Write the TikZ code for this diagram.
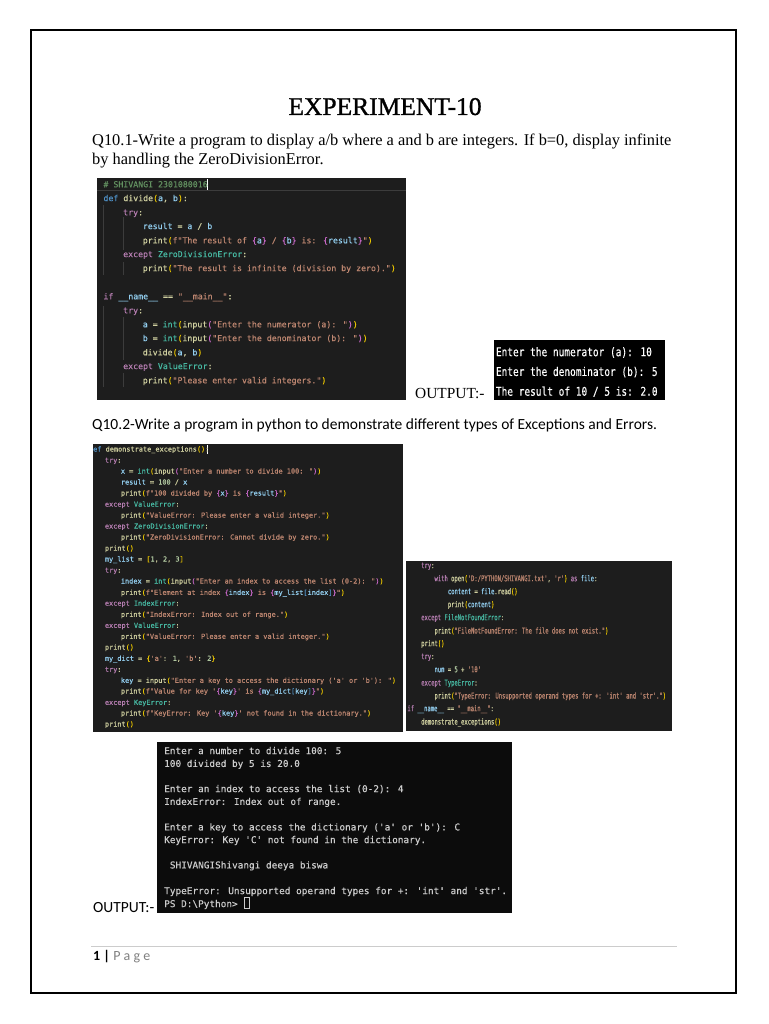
\documentclass[tikz,border=0pt]{standalone}
\usepackage{fontspec}
\setmainfont{Liberation Serif}
\newfontfamily\titlefont[FakeBold=1.2]{Liberation Serif}
\newfontfamily\calfont{Carlito}
\newfontfamily\codefont[FakeBold=0.4]{DejaVu Sans Mono}
\newfontfamily\narrowfont[FakeStretch=0.69,FakeBold=0.4]{DejaVu Sans Mono}
\newfontfamily\outfont[FakeStretch=0.79,FakeBold=0.3]{DejaVu Sans Mono}
\definecolor{codebg}{HTML}{1D1D1D}
\definecolor{termbg}{HTML}{0C0C0C}
\definecolor{guidecol}{HTML}{3C3C3C}
\definecolor{ckwcol}{HTML}{B57DB0}
\definecolor{cdefcol}{HTML}{4F8FC4}
\definecolor{cfncol}{HTML}{CFCF9F}
\definecolor{cvarcol}{HTML}{92CDEE}
\definecolor{cstrcol}{HTML}{BD8670}
\definecolor{cclscol}{HTML}{47B8A2}
\definecolor{cbrcol}{HTML}{E8C400}
\definecolor{cpucol}{HTML}{C868C8}
\definecolor{ccmcol}{HTML}{629060}
\definecolor{cnumcol}{HTML}{B0C8A0}
\definecolor{termtxt}{HTML}{CCCCCC}
\newcommand{\ckw}[1]{\textcolor{ckwcol}{#1}}
\newcommand{\cdf}[1]{\textcolor{cdefcol}{#1}}
\newcommand{\cfn}[1]{\textcolor{cfncol}{#1}}
\newcommand{\cvr}[1]{\textcolor{cvarcol}{#1}}
\newcommand{\cstr}[1]{\textcolor{cstrcol}{#1}}
\newcommand{\ccl}[1]{\textcolor{cclscol}{#1}}
\newcommand{\cbr}[1]{\textcolor{cbrcol}{#1}}
\newcommand{\cpu}[1]{\textcolor{cpucol}{#1}}
\newcommand{\cnum}[1]{\textcolor{cnumcol}{#1}}
\newcommand{\pr}{\cfn{print}\cbr{(}}
\tikzset{
  codea/.style={anchor=base west,inner sep=0pt,yshift=-2.6pt,text=cfncol,font=\codefont\fontsize{8.24}{10}\selectfont},
  codeb/.style={anchor=base west,inner sep=0pt,yshift=-2.2pt,text=cfncol,font=\codefont\fontsize{6.89}{9}\selectfont},
  codec/.style={anchor=base west,inner sep=0pt,yshift=-2.5pt,text=cfncol,font=\narrowfont\fontsize{8}{9}\selectfont},
  term/.style={anchor=base west,inner sep=0pt,yshift=-3.4pt,text=termtxt,font=\codefont\fontsize{9.39}{11}\selectfont},
  outp/.style={anchor=base west,inner sep=0pt,yshift=-4.2pt,text=white,font=\outfont\fontsize{12}{14}\selectfont},
  bodytxt/.style={anchor=base west,inner sep=0pt,yshift=-6.3pt,font=\fontsize{16.4}{18}\selectfont},
  caltxt/.style={anchor=base west,inner sep=0pt,yshift=-5pt,font=\calfont\fontsize{15.5}{18}\selectfont},
  guide/.style={draw=guidecol,line width=0.6pt}
}
\begin{document}
\begin{tikzpicture}[x=1pt,y=-1pt]
\useasboundingbox (0,0) rectangle (768,1024);
\draw[line width=2pt] (31,30) rectangle (736,993);
\node[anchor=base,inner sep=0pt,font=\titlefont\fontsize{25.5}{28}\selectfont] (title) at (385,115) {EXPERIMENT-10};
\node[bodytxt] (q1a) at (92,139) {Q10.1-Write a program to display a/b where a and b are integers. If b=0, display infinite};
\node[bodytxt] (q1b) at (92,158) {by handling the ZeroDivisionError.};

% first code
\fill[codebg] (97,178) rectangle (406,400);
\draw[guide] (97,190.5) -- (406,190.5);
\draw[white,line width=0.6pt] (207,179) -- (207,190);
\draw[guide] (103.5,205) -- (103.5,275);
\draw[guide] (103.5,306) -- (103.5,387);
\draw[guide] (123,217) -- (123,250);
\draw[guide] (123,262) -- (123,275);
\draw[guide] (123,317) -- (123,360);
\draw[guide] (123,373) -- (123,387);
\node[codea] (a1) at (103.3,184.7) {\textcolor{ccmcol}{\# SHIVANGI 2301080016}};
\node[codea] (a2) at (103.3,198.5) {\cdf{def} divide\cbr{(}\cvr{a}, \cvr{b}\cbr{)}:};
\node[codea] (a3) at (123,212.7) {\ckw{try}:};
\node[codea] (a4) at (142.6,226.5) {\cvr{result} = \cvr{a} / \cvr{b}};
\node[codea] (a5) at (142.6,240.7) {\pr\cstr{f"The result of }\cpu{\{}\cvr{a}\cpu{\}} \cstr{/ }\cpu{\{}\cvr{b}\cpu{\}} \cstr{is: }\cpu{\{}\cvr{result}\cpu{\}}\cstr{"}\cbr{)}};
\node[codea] (a6) at (123,254.5) {\ckw{except} \ccl{ZeroDivisionError}:};
\node[codea] (a7) at (142.6,268.5) {\pr\cstr{"The result is infinite (division by zero)."}\cbr{)}};
\node[codea] (a8) at (103.3,296.7) {\ckw{if} \cvr{\_\_name\_\_} == \cstr{"\_\_main\_\_"}:};
\node[codea] (a9) at (123,310.7) {\ckw{try}:};
\node[codea] (a10) at (142.6,324.7) {\cvr{a} = \ccl{int}\cbr{(}\cfn{input}\cpu{(}\cstr{"Enter the numerator (a): "}\cpu{)}\cbr{)}};
\node[codea] (a11) at (142.6,338.5) {\cvr{b} = \ccl{int}\cbr{(}\cfn{input}\cpu{(}\cstr{"Enter the denominator (b): "}\cpu{)}\cbr{)}};
\node[codea] (a12) at (142.6,352.7) {divide\cbr{(}\cvr{a}, \cvr{b}\cbr{)}};
\node[codea] (a13) at (123,366.5) {\ckw{except} \ccl{ValueError}:};
\node[codea] (a14) at (142.6,380.7) {\pr\cstr{"Please enter valid integers."}\cbr{)}};

\node[bodytxt,yshift=0.8pt,font=\fontsize{15.4}{18}\selectfont] (out1) at (415,393) {OUTPUT:-};
\fill[black] (494,340) rectangle (665,400);
\node[outp] (o1) at (495.7,352) {Enter the numerator (a): 10};
\node[outp] (o2) at (495.7,371.7) {Enter the denominator (b): 5};
\node[outp] (o3) at (495.7,391.5) {The result of 10 / 5 is: 2.0};

\node[caltxt] (q2) at (92,424) {Q10.2-Write a program in python to demonstrate different types of Exceptions and Errors.};

% second code
\fill[codebg] (93,444) rectangle (403,732);
\draw[white,line width=0.5pt] (207.7,445) -- (207.7,454);
\node[codeb] (b1) at (93,449.3) {\cdf{ef} demonstrate\_exceptions\cbr{()}:};
\node[codeb] (b2) at (104.7,460.4) {\ckw{try}:};
\node[codeb] (b3) at (120.7,471.3) {\cvr{x} = \ccl{int}\cbr{(}\cfn{input}\cpu{(}\cstr{"Enter a number to divide 100: "}\cpu{)}\cbr{)}};
\node[codeb] (b4) at (120.7,482.3) {\cvr{result} = \cnum{100} / \cvr{x}};
\node[codeb] (b5) at (120.7,493.3) {\pr\cstr{f"100 divided by }\cpu{\{}\cvr{x}\cpu{\}} \cstr{is }\cpu{\{}\cvr{result}\cpu{\}}\cstr{"}\cbr{)}};
\node[codeb] (b6) at (104.7,504.4) {\ckw{except} \ccl{ValueError}:};
\node[codeb] (b7) at (120.7,515.4) {\pr\cstr{"ValueError: Please enter a valid integer."}\cbr{)}};
\node[codeb] (b8) at (104.7,526.3) {\ckw{except} \ccl{ZeroDivisionError}:};
\node[codeb] (b9) at (120.7,537.3) {\pr\cstr{"ZeroDivisionError: Cannot divide by zero."}\cbr{)}};
\node[codeb] (b10) at (104.7,548.4) {\pr\cbr{)}};
\node[codeb] (b11) at (104.7,559.3) {\cvr{my\_list} = \cbr{[}\cnum{1}, \cnum{2}, \cnum{3}\cbr{]}};
\node[codeb] (b12) at (104.7,570.4) {\ckw{try}:};
\node[codeb] (b13) at (120.7,581.3) {\cvr{index} = \ccl{int}\cbr{(}\cfn{input}\cpu{(}\cstr{"Enter an index to access the list (0-2): "}\cpu{)}\cbr{)}};
\node[codeb] (b14) at (120.7,592.7) {\pr\cstr{f"Element at index }\cpu{\{}\cvr{index}\cpu{\}} \cstr{is }\cpu{\{}\cvr{my\_list}\textcolor{cdefcol}{[}\cvr{index}\textcolor{cdefcol}{]}\cpu{\}}\cstr{"}\cbr{)}};
\node[codeb] (b15) at (104.7,603.4) {\ckw{except} \ccl{IndexError}:};
\node[codeb] (b16) at (120.7,614.6) {\pr\cstr{"IndexError: Index out of range."}\cbr{)}};
\node[codeb] (b17) at (104.7,625.6) {\ckw{except} \ccl{ValueError}:};
\node[codeb] (b18) at (120.7,636.6) {\pr\cstr{"ValueError: Please enter a valid integer."}\cbr{)}};
\node[codeb] (b19) at (104.7,647.4) {\pr\cbr{)}};
\node[codeb] (b20) at (104.7,658.6) {\cvr{my\_dict} = \cbr{\{}\cstr{'a'}: \cnum{1}, \cstr{'b'}: \cnum{2}\cbr{\}}};
\node[codeb] (b21) at (104.7,669.6) {\ckw{try}:};
\node[codeb] (b22) at (120.7,680.6) {\cvr{key} = \cfn{input}\cbr{(}\cstr{"Enter a key to access the dictionary ('a' or 'b'): "}\cbr{)}};
\node[codeb] (b23) at (120.7,691.3) {\pr\cstr{f"Value for key '}\cpu{\{}\cvr{key}\cpu{\}}\cstr{' is }\cpu{\{}\cvr{my\_dict}\textcolor{cdefcol}{[}\cvr{key}\textcolor{cdefcol}{]}\cpu{\}}\cstr{"}\cbr{)}};
\node[codeb] (b24) at (104.7,702.6) {\ckw{except} \ccl{KeyError}:};
\node[codeb] (b25) at (120.7,713.3) {\pr\cstr{f"KeyError: Key '}\cpu{\{}\cvr{key}\cpu{\}}\cstr{' not found in the dictionary."}\cbr{)}};
\node[codeb] (b26) at (104.7,724.3) {\pr\cbr{)}};

% third code
\fill[codebg] (406,561) rectangle (672,731);
\node[codec] (c1) at (421,565.7) {\ckw{try}:};
\node[codec] (c2) at (434.3,578.7) {\ckw{with} \cfn{open}\cbr{(}\cstr{'D:/PYTHON/SHIVANGI.txt'}, \cstr{'r'}\cbr{)} \ckw{as} \cvr{file}:};
\node[codec] (c3) at (447.7,591.7) {\cvr{content} = \cvr{file}.read\cbr{()}};
\node[codec] (c4) at (447.7,604.7) {\pr\cvr{content}\cbr{)}};
\node[codec] (c5) at (421,617.7) {\ckw{except} \ccl{FileNotFoundError}:};
\node[codec] (c6) at (434.3,631) {\pr\cstr{"FileNotFoundError: The file does not exist."}\cbr{)}};
\node[codec] (c7) at (421,643.7) {\pr\cbr{)}};
\node[codec] (c8) at (421,656.7) {\ckw{try}:};
\node[codec] (c9) at (434.3,669.7) {\cvr{num} = \cnum{5} + \cstr{'10'}};
\node[codec] (c10) at (421,683) {\ckw{except} \ccl{TypeError}:};
\node[codec] (c11) at (434.3,696) {\pr\cstr{"TypeError: Unsupported operand types for +: 'int' and 'str'."}\cbr{)}};
\node[codec] (c12) at (407.3,708.7) {\ckw{if} \cvr{\_\_name\_\_} == \cstr{"\_\_main\_\_"}:};
\node[codec] (c13) at (421,722) {demonstrate\_exceptions\cbr{()}};

% terminal
\fill[termbg] (157,742) rectangle (512,913);
\node[term] (t1) at (164,750.7) {Enter a number to divide 100: 5};
\node[term] (t2) at (164,763.5) {100 divided by 5 is 20.0};
\node[term] (t3) at (164,788.7) {Enter an index to access the list (0-2): 4};
\node[term] (t4) at (164,801.5) {IndexError: Index out of range.};
\node[term] (t5) at (164,827) {Enter a key to access the dictionary ('a' or 'b'): C};
\node[term] (t6) at (164,839.7) {KeyError: Key 'C' not found in the dictionary.};
\node[term] (t7) at (169.7,865) {SHIVANGIShivangi deeya biswa};
\node[term] (t8) at (164,890.7) {TypeError: Unsupported operand types for +: 'int' and 'str'.};
\node[term] (t9) at (164,903.7) {PS D:\textbackslash Python>};
\draw[termtxt,line width=0.7pt] (244,897) rectangle (249.5,908);
\node[caltxt] (out2) at (93,907) {OUTPUT:-};

% footer
\draw[black!20,line width=0.7pt] (91,946) -- (677,946);
\node[caltxt,font=\calfont\fontsize{14}{16}\selectfont] (pgno) at (93,955.5) {\textbf{1 |} \textcolor{black!50}{P a g e}};
\end{tikzpicture}
\end{document}
